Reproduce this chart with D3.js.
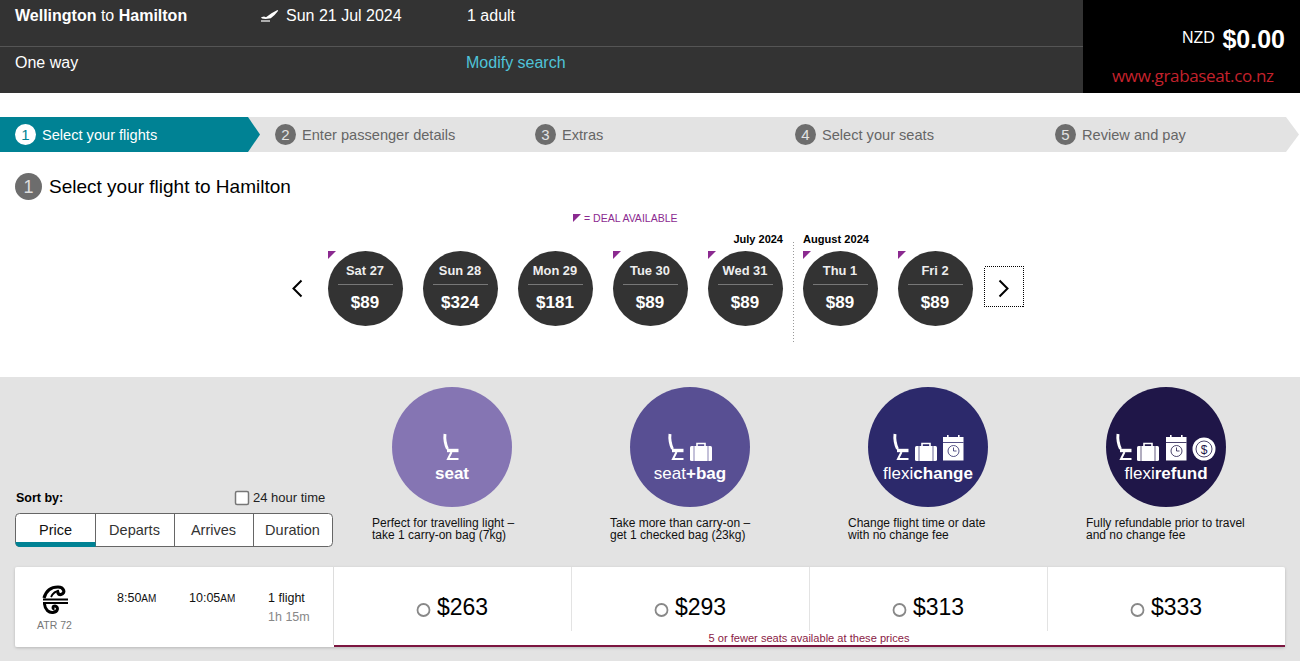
<!DOCTYPE html>
<html><head><meta charset="utf-8">
<script src="https://cdn.jsdelivr.net/npm/d3@7/dist/d3.min.js"></script>
<style>html,body{margin:0;padding:0;background:#fff;overflow:hidden}svg{display:block}text{font-family:"Liberation Sans",Arial,sans-serif}</style>
</head><body><div id="c"></div>
<script>
const steps=["Select your flights","Enter passenger details","Extras","Select your seats","Review and pay"];
const dayLabels=["Sat 27","Sun 28","Mon 29","Tue 30","Wed 31","Thu 1","Fri 2"];
const dayPrices=[89,324,181,89,89,89,89];
const dayDeals=[true,false,false,true,true,true,true];
const fareColors=["#8575b3","#584f93","#2c296b","#1f1648"];
const fareNames=[["","seat"],["seat","+bag"],["flexi","change"],["flexi","refund"]];
const fareDesc=[["Perfect for travelling light –","take 1 carry-on bag (7kg)"],["Take more than carry-on –","get 1 checked bag (23kg)"],["Change flight time or date","with no change fee"],["Fully refundable prior to travel","and no change fee"]];
const fareIcons=[1,2,3,4];
const farePrices=[263,293,313,333];
const sortTabs=["Price","Departs","Arrives","Duration"];

const svg=d3.select("#c").append("svg").attr("width",1300).attr("height",661);
const T=(p,x,y,s,o={})=>{const t=p.append("text").attr("x",x).attr("y",y).attr("font-size",o.size||15).attr("fill",o.fill||"#000").text(s);
 if(o.bold)t.attr("font-weight","bold");if(o.anchor)t.attr("text-anchor",o.anchor);if(o.font)t.style("font-family",o.font);return t;};

// header
svg.append("rect").attr("width",1083).attr("height",93).attr("fill","#333");
svg.append("rect").attr("x",1083).attr("width",217).attr("height",93).attr("fill","#000");
svg.append("line").attr("x1",0).attr("x2",1083).attr("y1",46.5).attr("y2",46.5).attr("stroke","#555");
const ht=svg.append("text").attr("x",15).attr("y",21).attr("font-size",16).attr("fill","#fff");
ht.append("tspan").attr("font-weight","bold").text("Wellington");ht.append("tspan").text(" to ");ht.append("tspan").attr("font-weight","bold").text("Hamilton");
// plane icon
svg.append("path").attr("d","M261 17.2l3-.6 2 .6 5.5-4 6-3.2.7.7-3.6 4.3-3.8 3.2-5.2.8-3.6-.6z").attr("fill","#fff");
svg.append("path").attr("d","M261 21h9").attr("stroke","#fff").attr("stroke-width",1.2);
T(svg,286,21,"Sun 21 Jul 2024",{size:16,fill:"#fff"});
T(svg,467,21,"1 adult",{size:16,fill:"#fff"});
T(svg,15,68,"One way",{size:16,fill:"#fff"});
T(svg,466,68,"Modify search",{size:16,fill:"#4fc3d9"});
T(svg,1182,43,"NZD",{size:16,fill:"#fff"});
T(svg,1285,48,"$0.00",{size:25,fill:"#fff",bold:true,anchor:"end"});
T(svg,1112,82,"www.grabaseat.co.nz",{size:17,fill:"#c4222c",font:"'Open Sans',sans-serif"}).attr("textLength",162);

// progress steps
svg.append("path").attr("d","M0 117H1286L1299 134.5L1286 152H0Z").attr("fill","#e3e3e3");
svg.append("path").attr("d","M0 117H248L260 134.5L248 152H0Z").attr("fill","#008294");
const stepX=d3.scalePoint().domain(steps).range([26,1066]);
steps.forEach((s,i)=>{const x=stepX(s);
 svg.append("circle").attr("cx",x-.5).attr("cy",134.5).attr("r",10.5).attr("fill",i?"#6d6d6d":"#fff");
 T(svg,x-.5,140,i+1,{size:15,fill:i?"#e3e3e3":"#008294",anchor:"middle"});
 T(svg,x+16,140,s,{size:14.6,fill:i?"#666":"#fff"});
});

// heading
svg.append("circle").attr("cx",28.5).attr("cy",186.5).attr("r",13.5).attr("fill","#6d6d6d");
T(svg,28.5,193,"1",{size:18,fill:"#ddd",anchor:"middle"});
T(svg,49,193,"Select your flight to Hamilton",{size:19,fill:"#000"});

// deal legend
const deal="#8b2a90";
svg.append("path").attr("d","M573 214H581L573 222Z").attr("fill",deal);
T(svg,584,222,"= DEAL AVAILABLE",{size:10.5,fill:deal});

// dates
const dateX=d3.scalePoint().domain(dayLabels).range([365.5,935.5]);
const cy=288.5;
svg.append("line").attr("x1",793.5).attr("x2",793.5).attr("y1",242).attr("y2",342).attr("stroke","#999").attr("stroke-dasharray","1 2");
T(svg,783,243,"July 2024",{size:11,bold:true,anchor:"end"});
T(svg,803,243,"August 2024",{size:11.1,bold:true});
dayLabels.forEach((d,i)=>{const x=dateX(d),g=svg.append("g");
 g.append("circle").attr("cx",x).attr("cy",cy).attr("r",37.5).attr("fill","#333");
 g.append("line").attr("x1",x-27.5).attr("x2",x+27.5).attr("y1",284.5).attr("y2",284.5).attr("stroke","#777");
 T(g,x-.5,275,d,{size:12.9,bold:true,fill:"#eee",anchor:"middle"});
 T(g,x-.5,307.5,"$"+dayPrices[i],{size:17,bold:true,fill:"#fff",anchor:"middle"});
 if(dayDeals[i])g.append("path").attr("d",`M${x-37.5} 251h8l-8 8z`).attr("fill",deal);
});
svg.append("path").attr("d","M301.5 280.5l-8 8 8 8").attr("fill","none").attr("stroke","#000").attr("stroke-width",2);
svg.append("rect").attr("x",984.5).attr("y",266.5).attr("width",39).attr("height",40).attr("fill","none").attr("stroke","#000").attr("stroke-dasharray","1 1").attr("shape-rendering","crispEdges");
svg.append("path").attr("d","M999.5 280.5l8 8-8 8").attr("fill","none").attr("stroke","#000").attr("stroke-width",2);

// grey panel
svg.append("rect").attr("y",377).attr("width",1300).attr("height",284).attr("fill","#e3e3e3");

// fare circles
const fareX=d3.scalePoint().domain(d3.range(4)).range([452,1166]);
const icons={
 seat(g,x,y){const s=g.append("g").attr("fill","none").attr("stroke","#fff").attr("stroke-width",2.9);
  s.append("path").attr("d",`M${x+2} ${y}c-.6 5 .2 10 2.5 15`);
  s.append("path").attr("d",`M${x+4} ${y+16.5}H${x+15.5}`).attr("stroke-width",3.4);
  s.append("path").attr("d",`M${x+8.5} ${y+18}L${x+5} ${y+25}H${x+15.5}`).attr("stroke-width",2);},
 bag(g,x,y,c){g.append("rect").attr("x",x).attr("y",y+4).attr("width",22).attr("height",15).attr("rx",1.5).attr("fill","#fff");
  g.append("path").attr("d",`M${x+7} ${y+4}v-2.5h8v2.5`).attr("fill","none").attr("stroke","#fff").attr("stroke-width",1.6);
  [4,18].forEach(d=>g.append("line").attr("x1",x+d).attr("x2",x+d).attr("y1",y+4).attr("y2",y+19).attr("stroke",c).attr("stroke-width",.7));},
 cal(g,x,y,c){g.append("rect").attr("x",x).attr("y",y+2).attr("width",20.5).attr("height",23.5).attr("fill","#fff");
  g.append("rect").attr("x",x).attr("y",y+7).attr("width",20.5).attr("height",.8).attr("fill",c);
  [4,15].forEach(d=>g.append("rect").attr("x",x+d).attr("y",y).attr("width",1.6).attr("height",3).attr("fill","#fff"));
  g.append("circle").attr("cx",x+10.5).attr("cy",y+16).attr("r",5.5).attr("fill","none").attr("stroke",c).attr("stroke-width",.8);
  g.append("path").attr("d",`M${x+10.5} ${y+12.5}v3.5h3`).attr("fill","none").attr("stroke",c).attr("stroke-width",.8);},
 refund(g,x,y,c){g.append("circle").attr("cx",x).attr("cy",y).attr("r",11.5).attr("fill","#fff");
  g.append("circle").attr("cx",x).attr("cy",y).attr("r",8).attr("fill","none").attr("stroke",c).attr("stroke-width",.8);
  T(g,x,y+4.5,"$",{size:12,fill:c,anchor:"middle"});}
};
fareColors.forEach((c,i)=>{const x=fareX(i),g=svg.append("g");
 g.append("circle").attr("cx",x).attr("cy",447).attr("r",60).attr("fill",c);
 const n=fareIcons[i], top=434;
 const sx=[x-9,x-22,x-35,x-50][i];
 icons.seat(g,sx,top);
 if(n>1)icons.bag(g,[0,x+0,x-13,x-29][i],442,c);
 if(n>2)icons.cal(g,[0,0,x+15,x+0][i],435,c);
 if(n>3)icons.refund(g,x+38,449,c);
 const t=g.append("text").attr("x",x).attr("y",479).attr("text-anchor","middle").attr("font-size",17).attr("fill","#fff");
 t.append("tspan").text(fareNames[i][0]);t.append("tspan").attr("font-weight","bold").text(fareNames[i][1]);
 fareDesc[i].forEach((l,k)=>T(svg,x-80,527+k*12,l,{size:12,fill:"#111"}));
});

// sort
T(svg,16,502,"Sort by:",{size:12.5,bold:true});
svg.append("rect").attr("x",235.5).attr("y",491.5).attr("width",13).attr("height",13).attr("rx",1.5).attr("fill","#fff").attr("stroke","#777").attr("stroke-width",1.5);
T(svg,253,502,"24 hour time",{size:13,fill:"#222"});
const tabX=d3.scaleBand().domain(sortTabs).range([16.5,332.5]);
svg.append("rect").attr("x",15.5).attr("y",513.5).attr("width",317).attr("height",33).attr("rx",4).attr("fill","#fff").attr("stroke","#666");
sortTabs.forEach((s,i)=>{const x=tabX(s);
 if(i)svg.append("line").attr("x1",x).attr("x2",x).attr("y1",514).attr("y2",546).attr("stroke","#666");
 T(svg,x+tabX.bandwidth()/2-.5,535,s,{size:14.5,fill:i?"#333":"#111",anchor:"middle"});
});
svg.append("path").attr("d","M15.5 542H95.5V547H20a4.5 4.5 0 0 1-4.5-4.5Z").attr("fill","#008294");

// flight card
const flt=[{a:"8:50",x:117},{a:"10:05",x:189}];
const defs=svg.append("defs");
const fl=defs.append("filter").attr("id","sh").attr("x","-2%").attr("y","-10%").attr("width","104%").attr("height","120%");
fl.append("feDropShadow").attr("dx",0).attr("dy",1).attr("stdDeviation",1.5).attr("flood-color","#000").attr("flood-opacity",.2);
svg.append("rect").attr("x",15).attr("y",567).attr("width",1270).attr("height",80).attr("rx",2).attr("fill","#fff").attr("filter","url(#sh)");
const priceX=d3.scaleBand().domain(farePrices).range([334,1286]);
svg.append("line").attr("x1",333.5).attr("x2",333.5).attr("y1",567).attr("y2",645).attr("stroke","#ddd");
farePrices.forEach((p,i)=>{const x=priceX(p);
 if(i)svg.append("line").attr("x1",x-.5).attr("x2",x-.5).attr("y1",567).attr("y2",631).attr("stroke","#e3e3e3");
 svg.append("circle").attr("cx",x+89.5).attr("cy",610).attr("r",6).attr("fill","#fff").attr("stroke","#888").attr("stroke-width",1.8);
 T(svg,x+103,615,"$"+p,{size:23,fill:"#000"});
});
svg.append("rect").attr("x",334).attr("y",645).attr("width",951).attr("height",2).attr("fill","#7c1640");
T(svg,809,642,"5 or fewer seats available at these prices",{size:11.1,fill:"#8a1a44",anchor:"middle"});

// koru logo
const k=svg.append("g").attr("fill","none").attr("stroke","#000");
k.append("path").attr("d","M43 599.5H68M43 603H68").attr("stroke-width",1.8);
k.append("path").attr("d","M44 598C46 591 51 587 58 587C64 587 66 593 61 594.5C58 595 57 592 59 591").attr("stroke-width",3.2);
k.append("path").attr("d","M51 597C53 593 56 591 59 591").attr("stroke-width",1.8);
k.append("path").attr("d","M44.5 604C45 610 49 613 53 612.5C58 612 59 607 55 606C52.5 606 52.5 609 54.5 609").attr("stroke-width",3);
T(svg,54.5,629,"ATR 72",{size:10.5,fill:"#777",anchor:"middle"});
flt.forEach(o=>{const t=svg.append("text").attr("x",o.x).attr("y",602).attr("font-size",12.5).attr("fill","#111");
 t.append("tspan").text(o.a);t.append("tspan").attr("font-size",10).text("AM");});
T(svg,268,602,"1 flight",{size:12.5,fill:"#111"});
T(svg,268,621,"1h 15m",{size:12.5,fill:"#888"});
</script></body></html>
